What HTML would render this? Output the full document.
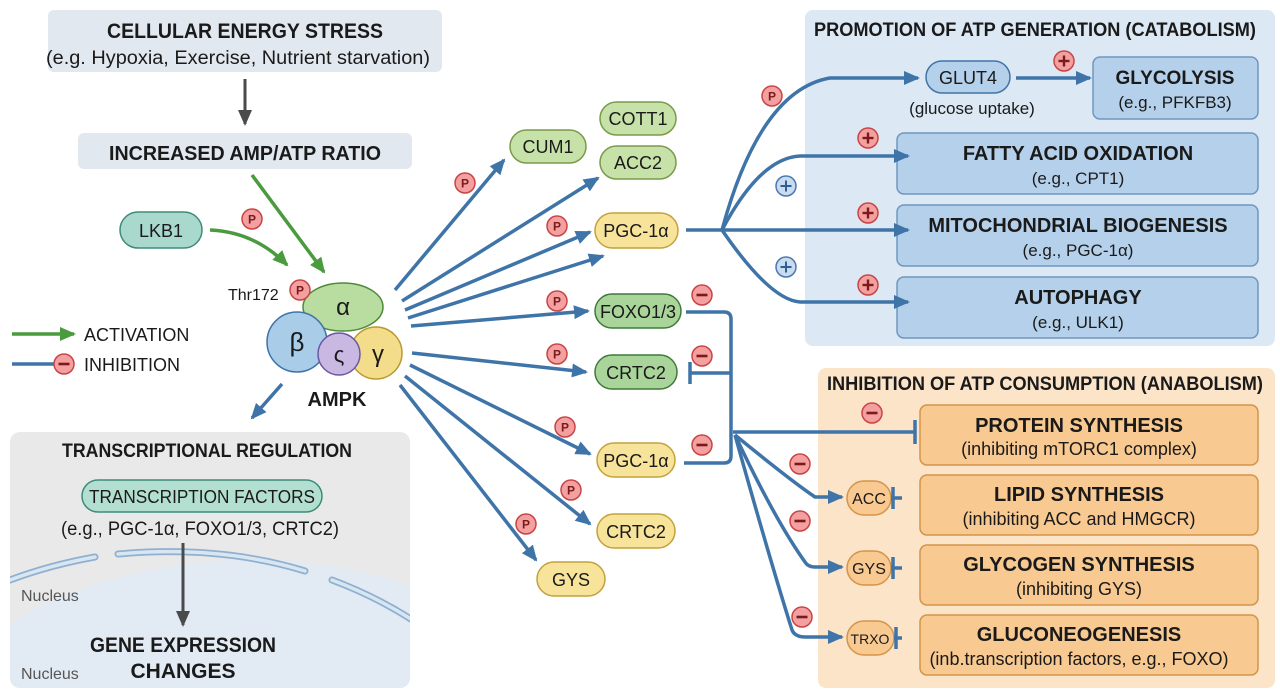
<!DOCTYPE html>
<html><head><meta charset="utf-8"><style>
html,body{margin:0;padding:0;background:#fff;width:1280px;height:698px;overflow:hidden;}
svg{display:block;}
text{font-family:"Liberation Sans Narrow","Liberation Sans",sans-serif;fill:#1a1a1a;}
.b{font-weight:bold;}
</style></head><body>
<svg width="1280" height="698" viewBox="0 0 1280 698" xmlns="http://www.w3.org/2000/svg">
<defs>
<marker id="abL" markerWidth="16" markerHeight="14" refX="14" refY="7" orient="auto" markerUnits="userSpaceOnUse"><path d="M0,0 L16,7 L0,14 z" fill="#3f74a8"/></marker>
<marker id="ag" markerWidth="16" markerHeight="14" refX="14" refY="7" orient="auto" markerUnits="userSpaceOnUse"><path d="M0,0 L16,7 L0,14 z" fill="#4a9a3e"/></marker>
<marker id="ak" markerWidth="16" markerHeight="14" refX="14" refY="7" orient="auto" markerUnits="userSpaceOnUse"><path d="M0,0 L16,7 L0,14 z" fill="#4a4a4a"/></marker>
<g id="P"><circle r="10" fill="#f4a0a0" stroke="#c94444" stroke-width="1.5"/><text y="4.5" text-anchor="middle" font-size="12" font-weight="bold" style="fill:#7a1a1a">P</text></g>
<g id="M"><circle r="10" fill="#f4a0a0" stroke="#c94444" stroke-width="1.5"/><rect x="-5.5" y="-1.3" width="11" height="2.6" fill="#7a1a1a"/></g>
<g id="PR"><circle r="10" fill="#f4a0a0" stroke="#c94444" stroke-width="1.5"/><rect x="-5.5" y="-1.2" width="11" height="2.4" fill="#7a1a1a"/><rect x="-1.2" y="-5.5" width="2.4" height="11" fill="#7a1a1a"/></g>
<g id="PB"><circle r="10" fill="#c9dbef" stroke="#4a78b0" stroke-width="1.5"/><rect x="-5.5" y="-1" width="11" height="2" fill="#2f5d94"/><rect x="-1" y="-5.5" width="2" height="11" fill="#2f5d94"/></g>
<clipPath id="tc"><rect x="10" y="432" width="400" height="256" rx="10"/></clipPath>
</defs>

<rect x="48" y="10" width="394" height="62" rx="6" fill="#e2e8f0"/>
<text x="245" y="38" text-anchor="middle" font-size="21" class="b" textLength="276" lengthAdjust="spacingAndGlyphs">CELLULAR ENERGY STRESS</text>
<text x="238" y="64" text-anchor="middle" font-size="19" textLength="384" lengthAdjust="spacingAndGlyphs">(e.g. Hypoxia, Exercise, Nutrient starvation)</text>
<line x1="245" y1="79" x2="245" y2="124" stroke="#4a4a4a" stroke-width="3" marker-end="url(#ak)"/>
<rect x="78" y="133" width="334" height="36" rx="6" fill="#e2e8f0"/>
<text x="245" y="160" text-anchor="middle" font-size="20" class="b" textLength="272" lengthAdjust="spacingAndGlyphs">INCREASED AMP/ATP RATIO</text>

<line x1="252" y1="175" x2="324" y2="272" stroke="#4a9a3e" stroke-width="3.5" marker-end="url(#ag)"/>
<rect x="120" y="212" width="82" height="36" rx="18" fill="#a9d9cc" stroke="#3f8a7a" stroke-width="1.5"/>
<text x="161" y="237" text-anchor="middle" font-size="18">LKB1</text>
<use href="#P" x="252" y="219"/>
<path d="M210,230 Q255,232 287,265" fill="none" stroke="#4a9a3e" stroke-width="3.5" marker-end="url(#ag)"/>

<text x="228" y="300" font-size="16">Thr172</text>
<ellipse cx="343" cy="307" rx="40" ry="24" fill="#b9dca0" stroke="#4e8a3a" stroke-width="1.5"/>
<use href="#P" x="300" y="290"/>
<circle cx="297" cy="342" r="30" fill="#a9cde8" stroke="#3f74a8" stroke-width="1.5"/>
<circle cx="376" cy="353" r="26" fill="#f3dc8a" stroke="#b99a30" stroke-width="1.5"/>
<circle cx="339" cy="354" r="21" fill="#c8b8e2" stroke="#6c57a0" stroke-width="1.5"/>
<text x="343" y="315" text-anchor="middle" font-size="24">α</text>
<text x="297" y="351" text-anchor="middle" font-size="26">β</text>
<text x="339" y="362" text-anchor="middle" font-size="22">ς</text>
<text x="378" y="362" text-anchor="middle" font-size="24">γ</text>
<text x="337" y="406" text-anchor="middle" font-size="20" class="b">AMPK</text>

<line x1="12" y1="334" x2="74" y2="334" stroke="#4a9a3e" stroke-width="3.5" marker-end="url(#ag)"/>
<text x="84" y="341" font-size="18">ACTIVATION</text>
<line x1="12" y1="364" x2="55" y2="364" stroke="#3f74a8" stroke-width="3.5"/>
<use href="#M" x="64" y="364"/>
<text x="84" y="371" font-size="18">INHIBITION</text>

<line x1="282" y1="384" x2="252" y2="418" stroke="#3f74a8" stroke-width="3.5" marker-end="url(#abL)"/>

<rect x="10" y="432" width="400" height="256" rx="10" fill="#e9e9e9"/>
<g clip-path="url(#tc)">
<ellipse cx="250" cy="840" rx="380" ry="280" fill="#e2ebf4"/>
<path d="M10,580 Q50,565 95,557" fill="none" stroke="#8fb0cf" stroke-width="7" stroke-linecap="round"/>
<path d="M10,580 Q50,565 95,557" fill="none" stroke="#d8e6f2" stroke-width="3.5" stroke-linecap="round"/>
<path d="M118,554 Q220,545 305,571" fill="none" stroke="#8fb0cf" stroke-width="7" stroke-linecap="round"/>
<path d="M118,554 Q220,545 305,571" fill="none" stroke="#d8e6f2" stroke-width="3.5" stroke-linecap="round"/>
<path d="M332,580 Q380,598 420,625" fill="none" stroke="#8fb0cf" stroke-width="7" stroke-linecap="round"/>
<path d="M332,580 Q380,598 420,625" fill="none" stroke="#d8e6f2" stroke-width="3.5" stroke-linecap="round"/>
</g>
<text x="207" y="457" text-anchor="middle" font-size="19" class="b" textLength="290" lengthAdjust="spacingAndGlyphs">TRANSCRIPTIONAL REGULATION</text>
<rect x="82" y="480" width="240" height="32" rx="16" fill="#b2dfcf" stroke="#3f8a7a" stroke-width="1.5"/>
<text x="202" y="503" text-anchor="middle" font-size="18" textLength="226" lengthAdjust="spacingAndGlyphs">TRANSCRIPTION FACTORS</text>
<text x="200" y="535" text-anchor="middle" font-size="19" textLength="278" lengthAdjust="spacingAndGlyphs">(e.g., PGC-1α, FOXO1/3, CRTC2)</text>
<line x1="183" y1="543" x2="183" y2="625" stroke="#4a4a4a" stroke-width="3" marker-end="url(#ak)"/>
<text x="21" y="601" font-size="16" style="fill:#555">Nucleus</text>
<text x="21" y="679" font-size="16" style="fill:#555">Nucleus</text>
<text x="183" y="652" text-anchor="middle" font-size="21" class="b" textLength="186" lengthAdjust="spacingAndGlyphs">GENE EXPRESSION</text>
<text x="183" y="678" text-anchor="middle" font-size="21" class="b">CHANGES</text>

<g stroke="#3f74a8" stroke-width="3.5" fill="none" marker-end="url(#abL)">
<line x1="395" y1="290" x2="504" y2="160"/>
<line x1="402" y1="301" x2="598" y2="178"/>
<line x1="405" y1="310" x2="590" y2="232"/>
<line x1="408" y1="318" x2="603" y2="256"/>
<line x1="411" y1="326" x2="588" y2="311"/>
<line x1="412" y1="353" x2="586" y2="372"/>
<line x1="410" y1="365" x2="590" y2="454"/>
<line x1="405" y1="376" x2="590" y2="524"/>
<line x1="400" y1="385" x2="536" y2="560"/>
</g>
<use href="#P" x="465" y="183"/>
<use href="#P" x="557" y="226"/>
<use href="#P" x="557" y="301"/>
<use href="#P" x="557" y="354"/>
<use href="#P" x="565" y="427"/>
<use href="#P" x="571" y="490"/>
<use href="#P" x="526" y="524"/>

<g stroke-width="1.5">
<rect x="510" y="130" width="76" height="33" rx="16.5" fill="#c7e2a8" stroke="#7a9a4a"/>
<rect x="600" y="102" width="76" height="33" rx="16.5" fill="#c7e2a8" stroke="#7a9a4a"/>
<rect x="600" y="146" width="76" height="33" rx="16.5" fill="#c7e2a8" stroke="#7a9a4a"/>
<rect x="595" y="213" width="83" height="35" rx="17.5" fill="#f7e39a" stroke="#c2a23a"/>
<rect x="595" y="294" width="86" height="34" rx="17" fill="#a9d59a" stroke="#3f7a3a"/>
<rect x="595" y="355" width="82" height="34" rx="17" fill="#a9d59a" stroke="#3f7a3a"/>
<rect x="597" y="443" width="78" height="34" rx="17" fill="#f7e39a" stroke="#c2a23a"/>
<rect x="597" y="514" width="78" height="34" rx="17" fill="#f7e39a" stroke="#c2a23a"/>
<rect x="537" y="562" width="68" height="34" rx="17" fill="#f7e39a" stroke="#c2a23a"/>
</g>
<g font-size="18" text-anchor="middle">
<text x="548" y="153">CUM1</text>
<text x="638" y="125">COTT1</text>
<text x="638" y="169">ACC2</text>
<text x="636" y="237">PGC-1α</text>
<text x="638" y="318" textLength="76" lengthAdjust="spacingAndGlyphs">FOXO1/3</text>
<text x="636" y="379">CRTC2</text>
<text x="636" y="467">PGC-1α</text>
<text x="636" y="538">CRTC2</text>
<text x="571" y="586">GYS</text>
</g>

<rect x="805" y="10" width="470" height="336" rx="8" fill="#dce8f3"/>
<text x="1035" y="36" text-anchor="middle" font-size="19" class="b" textLength="442" lengthAdjust="spacingAndGlyphs">PROMOTION OF ATP GENERATION (CATABOLISM)</text>
<g fill="#b5d0ea" stroke="#6f97c0" stroke-width="1.5">
<rect x="1093" y="57" width="165" height="62" rx="7"/>
<rect x="897" y="133" width="361" height="61" rx="7"/>
<rect x="897" y="205" width="361" height="61" rx="7"/>
<rect x="897" y="277" width="361" height="61" rx="7"/>
</g>
<rect x="926" y="61" width="84" height="32" rx="16" fill="#b5d0ea" stroke="#3f74a8" stroke-width="1.5"/>
<text x="968" y="84" text-anchor="middle" font-size="18">GLUT4</text>
<text x="972" y="114" text-anchor="middle" font-size="17">(glucose uptake)</text>
<text x="1175" y="84" text-anchor="middle" font-size="19" class="b">GLYCOLYSIS</text>
<text x="1175" y="108" text-anchor="middle" font-size="17">(e.g., PFKFB3)</text>
<text x="1078" y="160" text-anchor="middle" font-size="20" class="b">FATTY ACID OXIDATION</text>
<text x="1078" y="184" text-anchor="middle" font-size="17">(e.g., CPT1)</text>
<text x="1078" y="232" text-anchor="middle" font-size="20" class="b">MITOCHONDRIAL BIOGENESIS</text>
<text x="1078" y="256" text-anchor="middle" font-size="17">(e.g., PGC-1α)</text>
<text x="1078" y="304" text-anchor="middle" font-size="20" class="b">AUTOPHAGY</text>
<text x="1078" y="328" text-anchor="middle" font-size="17">(e.g., ULK1)</text>

<g stroke="#3f74a8" stroke-width="3.5" fill="none" marker-end="url(#abL)">
<path d="M686,230 L722,230 Q760,90 830,78 L918,78"/>
<path d="M722,230 Q760,158 800,156 L908,156"/>
<path d="M722,230 L908,230"/>
<path d="M722,230 Q770,300 800,302 L908,302"/>
<path d="M1016,78 L1090,78"/>
</g>
<use href="#P" x="772" y="96"/>
<use href="#PR" x="1064" y="61"/>
<use href="#PR" x="868" y="138"/>
<use href="#PB" x="786" y="186"/>
<use href="#PR" x="868" y="213"/>
<use href="#PB" x="786" y="267"/>
<use href="#PR" x="868" y="285"/>

<rect x="818" y="368" width="457" height="320" rx="8" fill="#fbe4c8"/>
<text x="1045" y="390" text-anchor="middle" font-size="19" class="b" textLength="436" lengthAdjust="spacingAndGlyphs">INHIBITION OF ATP CONSUMPTION (ANABOLISM)</text>
<g fill="#f8c990" stroke="#d4944a" stroke-width="1.5">
<rect x="920" y="405" width="338" height="60" rx="7"/>
<rect x="920" y="475" width="338" height="60" rx="7"/>
<rect x="920" y="545" width="338" height="60" rx="7"/>
<rect x="920" y="615" width="338" height="60" rx="7"/>
<rect x="847" y="481" width="44" height="34" rx="17"/>
<rect x="847" y="551" width="44" height="34" rx="17"/>
<rect x="847" y="621" width="47" height="34" rx="17"/>
</g>
<g text-anchor="middle">
<text x="1079" y="432" font-size="20" class="b">PROTEIN SYNTHESIS</text>
<text x="1079" y="455" font-size="18">(inhibiting mTORC1 complex)</text>
<text x="1079" y="501" font-size="20" class="b">LIPID SYNTHESIS</text>
<text x="1079" y="525" font-size="18">(inhibiting ACC and HMGCR)</text>
<text x="1079" y="571" font-size="20" class="b">GLYCOGEN SYNTHESIS</text>
<text x="1079" y="595" font-size="18">(inhibiting GYS)</text>
<text x="1079" y="641" font-size="20" class="b">GLUCONEOGENESIS</text>
<text x="1079" y="665" font-size="18">(inb.transcription factors, e.g., FOXO)</text>
<text x="869" y="504" font-size="16">ACC</text>
<text x="869" y="574" font-size="16">GYS</text>
<text x="870" y="644" font-size="14">TRXO</text>
</g>

<g stroke="#3f74a8" stroke-width="3.5" fill="none">
<path d="M686,312 L724,312 Q731,312 731,319 L731,456 Q731,463 724,463 L684,463"/>
<line x1="731" y1="373" x2="690" y2="373"/>
<line x1="690" y1="362" x2="690" y2="384"/>
<line x1="733" y1="432" x2="915" y2="432"/>
<line x1="915" y1="420" x2="915" y2="444"/>
<line x1="893" y1="487" x2="893" y2="509"/><line x1="891" y1="498" x2="902" y2="498"/>
<line x1="893" y1="557" x2="893" y2="579"/><line x1="891" y1="568" x2="902" y2="568"/>
<line x1="896" y1="627" x2="896" y2="649"/><line x1="894" y1="638" x2="902" y2="638"/>
</g>
<g stroke="#3f74a8" stroke-width="3.5" fill="none" marker-end="url(#abL)">
<path d="M735,435 Q790,480 815,497 L842,497"/>
<path d="M735,435 Q775,520 805,562 Q808,567 815,567 L842,567"/>
<path d="M735,435 Q770,560 792,630 Q795,637 805,637 L842,637"/>
</g>
<use href="#M" x="702" y="295"/>
<use href="#M" x="702" y="356"/>
<use href="#M" x="702" y="445"/>
<use href="#M" x="872" y="413"/>
<use href="#M" x="800" y="464"/>
<use href="#M" x="800" y="521"/>
<use href="#M" x="802" y="617"/>
</svg>
</body></html>
